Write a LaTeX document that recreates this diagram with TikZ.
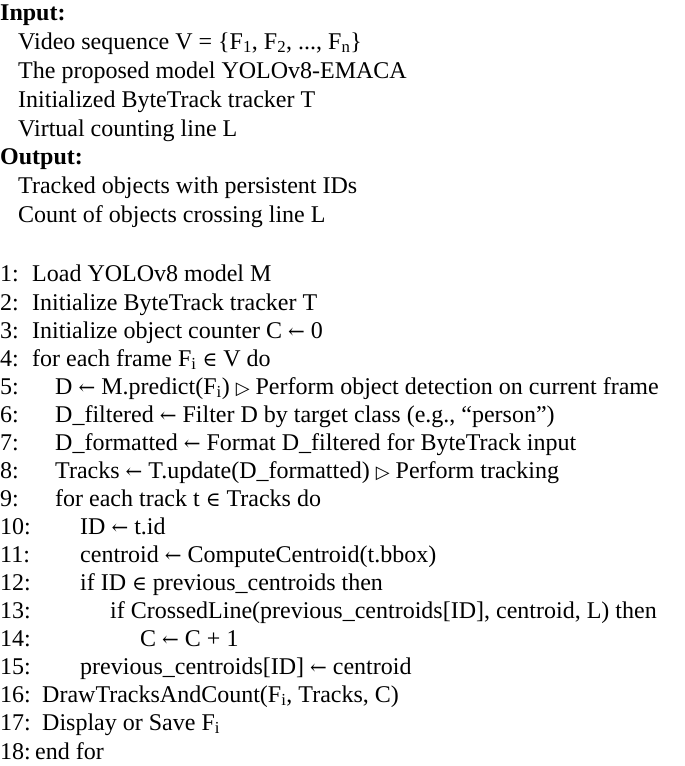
\documentclass[tikz,border=0pt]{standalone}
\usepackage{fontspec}
\setmainfont{Liberation Serif}
\newfontfamily\symf{DejaVu Serif}
\begin{document}
\begin{tikzpicture}[x=1pt,y=-1pt,
  t/.style={anchor=base west,inner sep=0pt,font=\fontsize{24}{28}\selectfont}]
\useasboundingbox (0,0) rectangle (685,766);
\newcommand{\sbs}[1]{\textsubscript{#1}}
\newcommand{\tri}{{\symf\fontsize{18}{20}\selectfont ▷}}
\newcommand{\la}{{\symf\fontsize{20}{20}\selectfont ←}}
\newcommand{\inn}{{\symf\fontsize{20}{20}\selectfont ∈}}
\node[t] (h1) at (0,20) {\textbf{Input:}};
\node[t] (a1) at (18,49) {Video sequence V = \{F\sbs{1}, F\sbs{2}, ..., F\sbs{n}\}};
\node[t] (a2) at (18,78) {The proposed model YOLOv8-EMACA};
\node[t] (a3) at (18,107) {Initialized ByteTrack tracker T};
\node[t] (a4) at (18,136) {Virtual counting line L};
\node[t] (h2) at (0,164) {\textbf{Output:}};
\node[t] (b1) at (18,193) {Tracked objects with persistent IDs};
\node[t] (b2) at (18,222) {Count of objects crossing line L};
\foreach \n/\yy in {1/281,2/310,3/338,4/366,5/394,6/422,7/450,8/478,9/506,10/534,11/562,12/590,13/618,14/646,15/674,16/702,17/730,18/759}
  \node[t] (n\n) at (0,\yy) {\n:};
\node[t] (l1) at (32,281) {Load YOLOv8 model M};
\node[t] (l2) at (32,310) {Initialize ByteTrack tracker T};
\node[t] (l3) at (32,338) {Initialize object counter C \la{} 0};
\node[t] (l4) at (32,366) {for each frame F\sbs{i} \inn{} V do};
\node[t] (l5) at (55,394) {D \la{} M.predict(F\sbs{i}) \tri{} Perform object detection on current frame};
\node[t] (l6) at (55,422) {D\_filtered \la{} Filter D by target class (e.g., “person”)};
\node[t] (l7) at (55,450) {D\_formatted \la{} Format D\_filtered for ByteTrack input};
\node[t] (l8) at (55,478) {Tracks \la{} T.update(D\_formatted) \tri{} Perform tracking};
\node[t] (l9) at (55,506) {for each track t \inn{} Tracks do};
\node[t] (l10) at (80,534) {ID \la{} t.id};
\node[t] (l11) at (80,562) {centroid \la{} ComputeCentroid(t.bbox)};
\node[t] (l12) at (80,590) {if ID \inn{} previous\_centroids then};
\node[t] (l13) at (110,618) {if CrossedLine(previous\_centroids[ID], centroid, L) then};
\node[t] (l14) at (140,646) {C \la{} C + 1};
\node[t] (l15) at (80,674) {previous\_centroids[ID] \la{} centroid};
\node[t] (l16) at (42,702) {DrawTracksAndCount(F\sbs{i}, Tracks, C)};
\node[t] (l17) at (42,730) {Display or Save F\sbs{i}};
\node[t] (l18) at (35,759) {end for};
\end{tikzpicture}
\end{document}
